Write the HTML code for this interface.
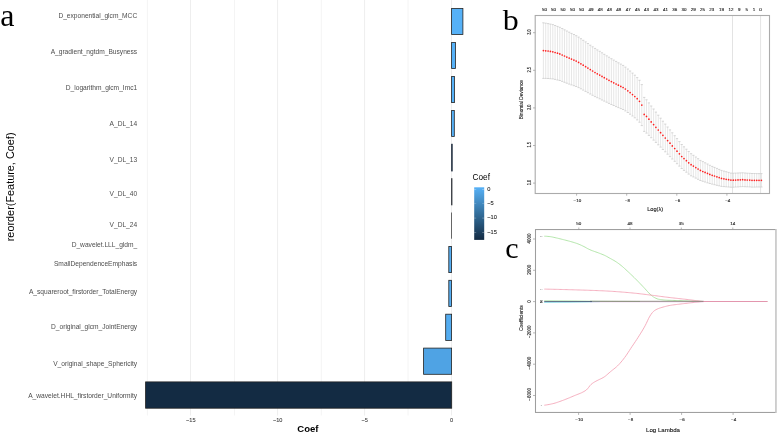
<!DOCTYPE html>
<html><head><meta charset="utf-8"><title>Figure</title>
<style>
html,body{margin:0;padding:0;background:#fff;}
body{width:777px;height:434px;overflow:hidden;}
svg{display:block;}
text{font-family:"Liberation Sans",Arial,Helvetica,sans-serif;}
.ser{font-family:"Liberation Serif","Times New Roman",serif;font-size:30px;fill:#000;}
.yl{font-size:6.63px;fill:#4d4d4d;text-anchor:end;}
.xl{font-size:5.6px;fill:#3a3a3a;stroke:#3a3a3a;stroke-width:0.08px;text-anchor:middle;}
.lg{font-size:5.7px;fill:#1a1a1a;stroke:#1a1a1a;stroke-width:0.08px;}
.t{font-size:4.5px;fill:#1a1a1a;stroke:#1a1a1a;stroke-width:0.12px;text-anchor:middle;}
.at{fill:#0a0a0a;stroke:#0a0a0a;stroke-width:0.08px;text-anchor:middle;}
</style></head><body>
<svg width="777" height="434" viewBox="0 0 777 434">
<defs>
<linearGradient id="cb" x1="0" y1="0" x2="0" y2="1">
<stop offset="0" stop-color="#56B1F7"/><stop offset="0.25" stop-color="#4590C9"/><stop offset="0.5" stop-color="#336F9C"/><stop offset="0.75" stop-color="#234D70"/><stop offset="1" stop-color="#132B43"/>
</linearGradient>
</defs>
<rect width="777" height="434" fill="#fff"/>

<g id="pa">
<line x1="147.4" y1="0" x2="147.4" y2="415.5" stroke="#f4f4f4" stroke-width="1"/>
<line x1="190.5" y1="0" x2="190.5" y2="415.5" stroke="#eeeeee" stroke-width="1"/>
<line x1="234.5" y1="0" x2="234.5" y2="415.5" stroke="#f4f4f4" stroke-width="1"/>
<line x1="277.6" y1="0" x2="277.6" y2="415.5" stroke="#eeeeee" stroke-width="1"/>
<line x1="321.3" y1="0" x2="321.3" y2="415.5" stroke="#f4f4f4" stroke-width="1"/>
<line x1="364.6" y1="0" x2="364.6" y2="415.5" stroke="#eeeeee" stroke-width="1"/>
<line x1="408.0" y1="0" x2="408.0" y2="415.5" stroke="#f4f4f4" stroke-width="1"/>
<line x1="451.5" y1="0" x2="451.5" y2="415.5" stroke="#eeeeee" stroke-width="1"/>
<rect x="451.6" y="8.4" width="11.30" height="26.10" fill="#56B1F7" stroke="#222" stroke-width="0.8"/>
<rect x="451.6" y="42.5" width="3.80" height="26.00" fill="#56B1F7" stroke="#222" stroke-width="0.8"/>
<rect x="451.6" y="76.4" width="2.80" height="26.20" fill="#56B1F7" stroke="#222" stroke-width="0.8"/>
<rect x="451.6" y="110.4" width="2.70" height="26.00" fill="#56B1F7" stroke="#222" stroke-width="0.8"/>
<rect x="451.0" y="143.8" width="1.80" height="27.60" fill="#3a4655"/>
<rect x="451.1" y="178.2" width="1.30" height="27.10" fill="#2e3238"/>
<rect x="451.2" y="212.5" width="0.80" height="26.20" fill="#444"/>
<rect x="448.8" y="246.4" width="2.80" height="26.20" fill="#55AEF3" stroke="#222" stroke-width="0.8"/>
<rect x="448.8" y="280.3" width="2.80" height="26.20" fill="#55AEF3" stroke="#222" stroke-width="0.8"/>
<rect x="445.7" y="314.2" width="5.90" height="26.20" fill="#54ACF0" stroke="#222" stroke-width="0.8"/>
<rect x="423.6" y="348.1" width="28.00" height="26.20" fill="#4FA3E4" stroke="#222" stroke-width="0.8"/>
<rect x="145.6" y="381.9" width="306.10" height="26.30" fill="#132B43" stroke="#222" stroke-width="0.8"/>
<text class="yl" x="137.2" y="18.1">D_exponential_glcm_MCC</text>
<text class="yl" x="137.2" y="54.1">A_gradient_ngtdm_Busyness</text>
<text class="yl" x="137.2" y="89.8">D_logarithm_glcm_Imc1</text>
<text class="yl" x="137.2" y="126.0">A_DL_14</text>
<text class="yl" x="137.2" y="162.4">V_DL_13</text>
<text class="yl" x="137.2" y="196.1">V_DL_40</text>
<text class="yl" x="137.2" y="227.0">V_DL_24</text>
<text class="yl" x="137.2" y="246.7">D_wavelet.LLL_gldm_</text>
<text class="yl" x="137.2" y="265.7">SmallDependenceEmphasis</text>
<text class="yl" x="137.2" y="294.1">A_squareroot_firstorder_TotalEnergy</text>
<text class="yl" x="137.2" y="328.6">D_original_glcm_JointEnergy</text>
<text class="yl" x="137.2" y="365.7">V_original_shape_Sphericity</text>
<text class="yl" x="137.2" y="398.4">A_wavelet.HHL_firstorder_Uniformity</text>
<text class="xl" x="190.8" y="422.4">−15</text>
<text class="xl" x="277.7" y="422.4">−10</text>
<text class="xl" x="364.8" y="422.4">−5</text>
<text class="xl" x="451.5" y="422.4">0</text>
<text x="307.9" y="431.9" text-anchor="middle" font-size="9.55px" font-weight="bold" fill="#000">Coef</text>
<text transform="translate(13.6,186.9) rotate(-90)" text-anchor="middle" font-size="10.88px" fill="#000">reorder(Feature, Coef)</text>
<text x="472.6" y="179.5" font-size="8.24px" fill="#000">Coef</text>
<rect x="474.2" y="187.3" width="10" height="52.6" fill="url(#cb)"/>
<line x1="474.2" y1="189.5" x2="476.2" y2="189.5" stroke="#fff" stroke-width="0.4" opacity="0.7"/><line x1="482.2" y1="189.5" x2="484.2" y2="189.5" stroke="#fff" stroke-width="0.4" opacity="0.7"/>
<text class="lg" x="487.2" y="190.7">0</text>
<line x1="474.2" y1="203.8" x2="476.2" y2="203.8" stroke="#fff" stroke-width="0.4" opacity="0.7"/><line x1="482.2" y1="203.8" x2="484.2" y2="203.8" stroke="#fff" stroke-width="0.4" opacity="0.7"/>
<text class="lg" x="487.2" y="205.0">−5</text>
<line x1="474.2" y1="218.1" x2="476.2" y2="218.1" stroke="#fff" stroke-width="0.4" opacity="0.7"/><line x1="482.2" y1="218.1" x2="484.2" y2="218.1" stroke="#fff" stroke-width="0.4" opacity="0.7"/>
<text class="lg" x="487.2" y="219.3">−10</text>
<line x1="474.2" y1="232.5" x2="476.2" y2="232.5" stroke="#fff" stroke-width="0.4" opacity="0.7"/><line x1="482.2" y1="232.5" x2="484.2" y2="232.5" stroke="#fff" stroke-width="0.4" opacity="0.7"/>
<text class="lg" x="487.2" y="233.7">−15</text>
<text class="ser" style="font-size:32px" x="0.2" y="25.9">a</text>
</g>
<g id="pb">
<line x1="732.5" y1="15.5" x2="732.5" y2="193.5" stroke="#dcdcdc" stroke-width="0.8"/>
<line x1="760.6" y1="15.5" x2="760.6" y2="193.5" stroke="#dcdcdc" stroke-width="0.8"/>
<path d="M543.4 22.8V78.4M545.7 23.2V78.4M548.1 23.6V78.5M550.4 24.1V78.7M552.8 24.6V78.9M555.1 25.5V79.4M557.5 26.4V80.0M559.8 27.3V80.5M562.2 28.5V81.4M564.5 29.8V82.3M566.8 31.0V83.2M569.2 32.2V84.1M571.5 33.4V84.9M573.9 34.5V85.7M576.2 35.7V86.5M578.6 37.1V87.6M580.9 38.7V88.8M583.2 40.3V90.1M585.6 41.9V91.4M587.9 43.5V92.7M590.3 45.2V94.0M592.6 46.8V95.3M595.0 48.4V96.6M597.3 49.9V97.7M599.7 51.3V98.8M602.0 52.8V100.0M604.3 54.3V101.1M606.7 55.8V102.2M609.0 57.2V103.4M611.4 58.7V104.5M613.7 60.1V105.5M616.1 61.4V106.6M618.4 62.8V107.6M620.8 64.1V108.6M623.1 65.4V109.5M625.4 67.1V110.9M627.8 69.0V112.5M630.1 71.0V114.2M632.5 73.1V116.0M634.8 75.2V117.8M637.2 77.6V119.9M639.5 80.3V122.2M641.8 84.6V125.6M644.2 97.4V131.4M646.5 99.8V133.1M648.9 102.9V135.4M651.2 106.0V137.7M653.6 109.0V140.1M655.9 112.1V142.4M658.3 115.2V144.8M660.6 118.2V147.1M662.9 121.2V149.5M665.3 124.1V151.8M667.6 127.0V154.2M670.0 129.9V156.6M672.3 132.8V159.0M674.7 135.7V161.3M677.0 138.6V163.7M679.4 141.6V166.1M681.7 144.5V168.5M684.0 146.8V170.4M686.4 149.2V172.2M688.7 151.5V174.1M691.1 153.7V175.8M693.4 155.3V176.9M695.8 157.0V178.1M698.1 158.7V179.3M700.4 160.4V180.5M702.8 161.6V181.3M705.1 162.8V182.0M707.5 164.0V182.8M709.8 165.3V183.5M712.2 166.4V184.1M714.5 167.4V184.7M716.9 168.4V185.3M719.2 169.4V185.8M721.5 170.4V186.4M723.9 171.1V186.6M726.2 171.7V186.8M728.6 172.4V187.0M730.9 173.1V187.2M733.3 173.2V187.2M735.6 173.1V187.0M738.0 173.0V186.9M740.3 172.9V186.7M742.6 172.8V186.6M745.0 173.0V186.7M747.3 173.2V186.8M749.7 173.3V186.9M752.0 173.5V187.1M754.4 173.5V187.1M756.7 173.6V187.0M759.0 173.6V187.0M761.4 173.6V187.0" stroke="#dcdcdc" stroke-width="0.7" fill="none"/>
<path d="M542.3 22.8h2.2M542.3 78.4h2.2M544.6 23.2h2.2M544.6 78.4h2.2M547.0 23.6h2.2M547.0 78.5h2.2M549.3 24.1h2.2M549.3 78.7h2.2M551.7 24.6h2.2M551.7 78.9h2.2M554.0 25.5h2.2M554.0 79.4h2.2M556.4 26.4h2.2M556.4 80.0h2.2M558.7 27.3h2.2M558.7 80.5h2.2M561.1 28.5h2.2M561.1 81.4h2.2M563.4 29.8h2.2M563.4 82.3h2.2M565.7 31.0h2.2M565.7 83.2h2.2M568.1 32.2h2.2M568.1 84.1h2.2M570.4 33.4h2.2M570.4 84.9h2.2M572.8 34.5h2.2M572.8 85.7h2.2M575.1 35.7h2.2M575.1 86.5h2.2M577.5 37.1h2.2M577.5 87.6h2.2M579.8 38.7h2.2M579.8 88.8h2.2M582.1 40.3h2.2M582.1 90.1h2.2M584.5 41.9h2.2M584.5 91.4h2.2M586.8 43.5h2.2M586.8 92.7h2.2M589.2 45.2h2.2M589.2 94.0h2.2M591.5 46.8h2.2M591.5 95.3h2.2M593.9 48.4h2.2M593.9 96.6h2.2M596.2 49.9h2.2M596.2 97.7h2.2M598.6 51.3h2.2M598.6 98.8h2.2M600.9 52.8h2.2M600.9 100.0h2.2M603.2 54.3h2.2M603.2 101.1h2.2M605.6 55.8h2.2M605.6 102.2h2.2M607.9 57.2h2.2M607.9 103.4h2.2M610.3 58.7h2.2M610.3 104.5h2.2M612.6 60.1h2.2M612.6 105.5h2.2M615.0 61.4h2.2M615.0 106.6h2.2M617.3 62.8h2.2M617.3 107.6h2.2M619.7 64.1h2.2M619.7 108.6h2.2M622.0 65.4h2.2M622.0 109.5h2.2M624.3 67.1h2.2M624.3 110.9h2.2M626.7 69.0h2.2M626.7 112.5h2.2M629.0 71.0h2.2M629.0 114.2h2.2M631.4 73.1h2.2M631.4 116.0h2.2M633.7 75.2h2.2M633.7 117.8h2.2M636.1 77.6h2.2M636.1 119.9h2.2M638.4 80.3h2.2M638.4 122.2h2.2M640.7 84.6h2.2M640.7 125.6h2.2M643.1 97.4h2.2M643.1 131.4h2.2M645.4 99.8h2.2M645.4 133.1h2.2M647.8 102.9h2.2M647.8 135.4h2.2M650.1 106.0h2.2M650.1 137.7h2.2M652.5 109.0h2.2M652.5 140.1h2.2M654.8 112.1h2.2M654.8 142.4h2.2M657.2 115.2h2.2M657.2 144.8h2.2M659.5 118.2h2.2M659.5 147.1h2.2M661.8 121.2h2.2M661.8 149.5h2.2M664.2 124.1h2.2M664.2 151.8h2.2M666.5 127.0h2.2M666.5 154.2h2.2M668.9 129.9h2.2M668.9 156.6h2.2M671.2 132.8h2.2M671.2 159.0h2.2M673.6 135.7h2.2M673.6 161.3h2.2M675.9 138.6h2.2M675.9 163.7h2.2M678.3 141.6h2.2M678.3 166.1h2.2M680.6 144.5h2.2M680.6 168.5h2.2M682.9 146.8h2.2M682.9 170.4h2.2M685.3 149.2h2.2M685.3 172.2h2.2M687.6 151.5h2.2M687.6 174.1h2.2M690.0 153.7h2.2M690.0 175.8h2.2M692.3 155.3h2.2M692.3 176.9h2.2M694.7 157.0h2.2M694.7 178.1h2.2M697.0 158.7h2.2M697.0 179.3h2.2M699.3 160.4h2.2M699.3 180.5h2.2M701.7 161.6h2.2M701.7 181.3h2.2M704.0 162.8h2.2M704.0 182.0h2.2M706.4 164.0h2.2M706.4 182.8h2.2M708.7 165.3h2.2M708.7 183.5h2.2M711.1 166.4h2.2M711.1 184.1h2.2M713.4 167.4h2.2M713.4 184.7h2.2M715.8 168.4h2.2M715.8 185.3h2.2M718.1 169.4h2.2M718.1 185.8h2.2M720.4 170.4h2.2M720.4 186.4h2.2M722.8 171.1h2.2M722.8 186.6h2.2M725.1 171.7h2.2M725.1 186.8h2.2M727.5 172.4h2.2M727.5 187.0h2.2M729.8 173.1h2.2M729.8 187.2h2.2M732.2 173.2h2.2M732.2 187.2h2.2M734.5 173.1h2.2M734.5 187.0h2.2M736.9 173.0h2.2M736.9 186.9h2.2M739.2 172.9h2.2M739.2 186.7h2.2M741.5 172.8h2.2M741.5 186.6h2.2M743.9 173.0h2.2M743.9 186.7h2.2M746.2 173.2h2.2M746.2 186.8h2.2M748.6 173.3h2.2M748.6 186.9h2.2M750.9 173.5h2.2M750.9 187.1h2.2M753.3 173.5h2.2M753.3 187.1h2.2M755.6 173.6h2.2M755.6 187.0h2.2M757.9 173.6h2.2M757.9 187.0h2.2M760.3 173.6h2.2M760.3 187.0h2.2" stroke="#c6c6c6" stroke-width="0.7" fill="none"/>
<g fill="#ff2020">
<circle cx="543.4" cy="50.6" r="0.85"/>
<circle cx="545.7" cy="50.8" r="0.85"/>
<circle cx="548.1" cy="51.0" r="0.85"/>
<circle cx="550.4" cy="51.4" r="0.85"/>
<circle cx="552.8" cy="51.8" r="0.85"/>
<circle cx="555.1" cy="52.5" r="0.85"/>
<circle cx="557.5" cy="53.2" r="0.85"/>
<circle cx="559.8" cy="53.9" r="0.85"/>
<circle cx="562.2" cy="55.0" r="0.85"/>
<circle cx="564.5" cy="56.0" r="0.85"/>
<circle cx="566.8" cy="57.1" r="0.85"/>
<circle cx="569.2" cy="58.1" r="0.85"/>
<circle cx="571.5" cy="59.1" r="0.85"/>
<circle cx="573.9" cy="60.1" r="0.85"/>
<circle cx="576.2" cy="61.1" r="0.85"/>
<circle cx="578.6" cy="62.4" r="0.85"/>
<circle cx="580.9" cy="63.8" r="0.85"/>
<circle cx="583.2" cy="65.2" r="0.85"/>
<circle cx="585.6" cy="66.7" r="0.85"/>
<circle cx="587.9" cy="68.1" r="0.85"/>
<circle cx="590.3" cy="69.6" r="0.85"/>
<circle cx="592.6" cy="71.0" r="0.85"/>
<circle cx="595.0" cy="72.5" r="0.85"/>
<circle cx="597.3" cy="73.8" r="0.85"/>
<circle cx="599.7" cy="75.1" r="0.85"/>
<circle cx="602.0" cy="76.4" r="0.85"/>
<circle cx="604.3" cy="77.7" r="0.85"/>
<circle cx="606.7" cy="79.0" r="0.85"/>
<circle cx="609.0" cy="80.3" r="0.85"/>
<circle cx="611.4" cy="81.6" r="0.85"/>
<circle cx="613.7" cy="82.8" r="0.85"/>
<circle cx="616.1" cy="84.0" r="0.85"/>
<circle cx="618.4" cy="85.2" r="0.85"/>
<circle cx="620.8" cy="86.4" r="0.85"/>
<circle cx="623.1" cy="87.5" r="0.85"/>
<circle cx="625.4" cy="89.0" r="0.85"/>
<circle cx="627.8" cy="90.8" r="0.85"/>
<circle cx="630.1" cy="92.6" r="0.85"/>
<circle cx="632.5" cy="94.6" r="0.85"/>
<circle cx="634.8" cy="96.5" r="0.85"/>
<circle cx="637.2" cy="98.7" r="0.85"/>
<circle cx="639.5" cy="101.3" r="0.85"/>
<circle cx="641.8" cy="105.1" r="0.85"/>
<circle cx="644.2" cy="114.4" r="0.85"/>
<circle cx="646.5" cy="116.4" r="0.85"/>
<circle cx="648.9" cy="119.2" r="0.85"/>
<circle cx="651.2" cy="121.9" r="0.85"/>
<circle cx="653.6" cy="124.6" r="0.85"/>
<circle cx="655.9" cy="127.3" r="0.85"/>
<circle cx="658.3" cy="130.0" r="0.85"/>
<circle cx="660.6" cy="132.7" r="0.85"/>
<circle cx="662.9" cy="135.3" r="0.85"/>
<circle cx="665.3" cy="138.0" r="0.85"/>
<circle cx="667.6" cy="140.6" r="0.85"/>
<circle cx="670.0" cy="143.2" r="0.85"/>
<circle cx="672.3" cy="145.9" r="0.85"/>
<circle cx="674.7" cy="148.5" r="0.85"/>
<circle cx="677.0" cy="151.2" r="0.85"/>
<circle cx="679.4" cy="153.8" r="0.85"/>
<circle cx="681.7" cy="156.5" r="0.85"/>
<circle cx="684.0" cy="158.6" r="0.85"/>
<circle cx="686.4" cy="160.7" r="0.85"/>
<circle cx="688.7" cy="162.8" r="0.85"/>
<circle cx="691.1" cy="164.7" r="0.85"/>
<circle cx="693.4" cy="166.1" r="0.85"/>
<circle cx="695.8" cy="167.6" r="0.85"/>
<circle cx="698.1" cy="169.0" r="0.85"/>
<circle cx="700.4" cy="170.4" r="0.85"/>
<circle cx="702.8" cy="171.5" r="0.85"/>
<circle cx="705.1" cy="172.4" r="0.85"/>
<circle cx="707.5" cy="173.4" r="0.85"/>
<circle cx="709.8" cy="174.4" r="0.85"/>
<circle cx="712.2" cy="175.3" r="0.85"/>
<circle cx="714.5" cy="176.0" r="0.85"/>
<circle cx="716.9" cy="176.8" r="0.85"/>
<circle cx="719.2" cy="177.6" r="0.85"/>
<circle cx="721.5" cy="178.4" r="0.85"/>
<circle cx="723.9" cy="178.8" r="0.85"/>
<circle cx="726.2" cy="179.3" r="0.85"/>
<circle cx="728.6" cy="179.7" r="0.85"/>
<circle cx="730.9" cy="180.1" r="0.85"/>
<circle cx="733.3" cy="180.2" r="0.85"/>
<circle cx="735.6" cy="180.1" r="0.85"/>
<circle cx="738.0" cy="179.9" r="0.85"/>
<circle cx="740.3" cy="179.8" r="0.85"/>
<circle cx="742.6" cy="179.7" r="0.85"/>
<circle cx="745.0" cy="179.9" r="0.85"/>
<circle cx="747.3" cy="180.0" r="0.85"/>
<circle cx="749.7" cy="180.1" r="0.85"/>
<circle cx="752.0" cy="180.3" r="0.85"/>
<circle cx="754.4" cy="180.3" r="0.85"/>
<circle cx="756.7" cy="180.3" r="0.85"/>
<circle cx="759.0" cy="180.3" r="0.85"/>
<circle cx="761.4" cy="180.3" r="0.85"/>
</g>
<rect x="535.2" y="15.5" width="234.3" height="178.0" fill="none" stroke="#ababab" stroke-width="1.1"/>
<text class="t" transform="translate(577.4,202.1) scale(1,0.9)">−10</text>
<text class="t" transform="translate(627.5,202.1) scale(1,0.9)">−8</text>
<text class="t" transform="translate(677.6,202.1) scale(1,0.9)">−6</text>
<text class="t" transform="translate(727.7,202.1) scale(1,0.9)">−4</text>
<text class="t" transform="translate(530.9,182.5) scale(1,0.87) rotate(-90)">1.0</text>
<text class="t" transform="translate(530.9,144.9) scale(1,0.87) rotate(-90)">1.5</text>
<text class="t" transform="translate(530.9,107.3) scale(1,0.87) rotate(-90)">2.0</text>
<text class="t" transform="translate(530.9,69.7) scale(1,0.87) rotate(-90)">2.5</text>
<text class="t" transform="translate(530.9,32.1) scale(1,0.87) rotate(-90)">3.0</text>
<text class="t" transform="translate(544.6,11.25) scale(1,0.88)">50</text>
<text class="t" transform="translate(553.4,11.25) scale(1,0.88)">50</text>
<text class="t" transform="translate(563,11.25) scale(1,0.88)">50</text>
<text class="t" transform="translate(572.5,11.25) scale(1,0.88)">50</text>
<text class="t" transform="translate(581.4,11.25) scale(1,0.88)">50</text>
<text class="t" transform="translate(590.9,11.25) scale(1,0.88)">49</text>
<text class="t" transform="translate(600.3,11.25) scale(1,0.88)">48</text>
<text class="t" transform="translate(609.5,11.25) scale(1,0.88)">48</text>
<text class="t" transform="translate(618.8,11.25) scale(1,0.88)">48</text>
<text class="t" transform="translate(628.2,11.25) scale(1,0.88)">47</text>
<text class="t" transform="translate(637.4,11.25) scale(1,0.88)">45</text>
<text class="t" transform="translate(646.6,11.25) scale(1,0.88)">43</text>
<text class="t" transform="translate(656.0,11.25) scale(1,0.88)">43</text>
<text class="t" transform="translate(665.4,11.25) scale(1,0.88)">41</text>
<text class="t" transform="translate(674.8,11.25) scale(1,0.88)">36</text>
<text class="t" transform="translate(684,11.25) scale(1,0.88)">30</text>
<text class="t" transform="translate(693.3,11.25) scale(1,0.88)">29</text>
<text class="t" transform="translate(702.5,11.25) scale(1,0.88)">25</text>
<text class="t" transform="translate(711.8,11.25) scale(1,0.88)">23</text>
<text class="t" transform="translate(721.4,11.25) scale(1,0.88)">19</text>
<text class="t" transform="translate(730.9,11.25) scale(1,0.88)">12</text>
<text class="t" transform="translate(739.2,11.25) scale(1,0.88)">9</text>
<text class="t" transform="translate(746.8,11.25) scale(1,0.88)">5</text>
<text class="t" transform="translate(754.1,11.25) scale(1,0.88)">1</text>
<text class="t" transform="translate(760.5,11.25) scale(1,0.88)">0</text>
<path d="M576.6 193.5v2.2M626.7 193.5v2.2M676.8 193.5v2.2M726.9 193.5v2.2M535.2 183.1h-2.2M535.2 145.5h-2.2M535.2 107.9h-2.2M535.2 70.3h-2.2M535.2 32.7h-2.2" stroke="#999" stroke-width="0.7" fill="none"/>
<text class="at" font-size="5.7px" x="655.2" y="210.7">Log(λ)</text>
<text class="at" font-size="5.2px" textLength="39.1" lengthAdjust="spacingAndGlyphs" transform="translate(522.7,99.6) rotate(-90)">Binomial Deviance</text>
<text class="ser" style="font-size:32px" transform="translate(502.8,29.6) scale(1,0.93)">b</text>
</g>
<g id="pc">
<path d="M544.3 236.20L545.5 236.24L546.7 236.31L547.9 236.41L549.1 236.53L550.3 236.66L551.5 236.84L552.7 237.08L553.9 237.35L555.1 237.63L556.3 237.91L557.5 238.18L558.7 238.47L559.9 238.76L561.1 239.06L562.3 239.37L563.5 239.67L564.7 239.98L565.9 240.28L567.1 240.59L568.3 240.90L569.5 241.22L570.7 241.56L571.9 241.90L573.1 242.25L574.3 242.62L575.5 243.00L576.7 243.41L577.9 243.85L579.1 244.33L580.3 244.84L581.5 245.39L582.7 245.96L583.9 246.55L585.1 247.17L586.3 247.87L587.5 248.54L588.7 249.14L589.9 249.70L591.1 250.22L592.3 250.69L593.5 251.14L594.7 251.56L595.9 251.97L597.1 252.39L598.3 252.84L599.5 253.29L600.7 253.75L601.9 254.22L603.1 254.71L604.3 255.23L605.5 255.79L606.7 256.42L607.9 257.10L609.1 257.79L610.3 258.47L611.5 259.12L612.7 259.78L613.9 260.45L615.1 261.16L616.3 261.93L617.5 262.75L618.7 263.62L619.9 264.53L621.1 265.48L622.3 266.46L623.5 267.51L624.7 268.59L625.9 269.70L627.1 270.82L628.3 271.93L629.5 273.05L630.7 274.19L631.9 275.34L633.1 276.50L634.3 277.67L635.5 278.86L636.7 280.07L637.9 281.28L639.1 282.51L640.3 283.75L641.5 285.01L642.7 286.28L643.9 287.56L645.1 288.84L646.3 290.18L647.5 291.53L648.7 292.84L649.9 294.04L651.1 295.10L652.3 296.10L653.5 296.98L654.7 297.67L655.9 298.29L657.1 298.81L658.3 299.18L659.5 299.41L660.7 299.61L661.9 299.78L663.1 299.92L664.3 300.03L665.5 300.11L666.7 300.18L667.9 300.24L669.1 300.29L670.3 300.33L671.5 300.38L672.7 300.42L673.9 300.45L675.1 300.49L676.3 300.52L677.5 300.55L678.7 300.59L679.9 300.63L681.1 300.68L682.3 300.74L683.5 300.80L684.7 300.86L685.9 300.92L687.1 300.98L688.3 301.03L689.5 301.08L690.7 301.13L691.9 301.17L693.1 301.22L694.3 301.27L695.5 301.31L696.7 301.36L697.9 301.40L699.1 301.43L700.3 301.46L701.5 301.48L702.7 301.50L703.9 301.50L705.1 301.50L706.3 301.50L707.5 301.50L708.7 301.50L709.9 301.50L711.1 301.50L712.3 301.50L713.5 301.50L714.7 301.50L715.9 301.50L717.1 301.50L718.3 301.50L719.5 301.50L720.7 301.50L721.9 301.50L723.1 301.50L724.3 301.50L725.5 301.50L726.7 301.50L727.9 301.50L729.1 301.50L730.3 301.50L731.5 301.50L732.7 301.50L733.9 301.50L735.1 301.50L736.3 301.50L737.5 301.50L738.7 301.50L739.9 301.50L741.1 301.50L742.3 301.50L743.5 301.50L744.7 301.50L745.9 301.50L747.1 301.50L748.3 301.50L749.5 301.50L750.7 301.50L751.9 301.50L753.1 301.50L754.3 301.50L755.5 301.50L756.7 301.50L757.9 301.50L759.1 301.50L760.3 301.50L761.5 301.50L762.7 301.50L763.9 301.50L765.1 301.50L766.3 301.50L767.3 301.50" stroke="#a6e29c" stroke-width="0.85" fill="none"/>
<path d="M544.3 289.10L545.5 289.12L546.7 289.15L547.9 289.17L549.1 289.20L550.3 289.22L551.5 289.25L552.7 289.27L553.9 289.30L555.1 289.33L556.3 289.36L557.5 289.39L558.7 289.42L559.9 289.44L561.1 289.47L562.3 289.51L563.5 289.54L564.7 289.57L565.9 289.60L567.1 289.63L568.3 289.66L569.5 289.70L570.7 289.73L571.9 289.76L573.1 289.80L574.3 289.83L575.5 289.87L576.7 289.90L577.9 289.94L579.1 289.97L580.3 290.01L581.5 290.05L582.7 290.08L583.9 290.12L585.1 290.16L586.3 290.20L587.5 290.23L588.7 290.27L589.9 290.32L591.1 290.36L592.3 290.40L593.5 290.44L594.7 290.49L595.9 290.53L597.1 290.58L598.3 290.63L599.5 290.68L600.7 290.73L601.9 290.78L603.1 290.84L604.3 290.89L605.5 290.95L606.7 291.02L607.9 291.08L609.1 291.15L610.3 291.22L611.5 291.29L612.7 291.37L613.9 291.45L615.1 291.53L616.3 291.62L617.5 291.70L618.7 291.79L619.9 291.89L621.1 291.98L622.3 292.08L623.5 292.18L624.7 292.27L625.9 292.38L627.1 292.48L628.3 292.59L629.5 292.70L630.7 292.81L631.9 292.92L633.1 293.04L634.3 293.16L635.5 293.28L636.7 293.40L637.9 293.53L639.1 293.66L640.3 293.80L641.5 293.94L642.7 294.09L643.9 294.23L645.1 294.38L646.3 294.54L647.5 294.69L648.7 294.84L649.9 295.00L651.1 295.15L652.3 295.30L653.5 295.46L654.7 295.61L655.9 295.77L657.1 295.93L658.3 296.09L659.5 296.25L660.7 296.41L661.9 296.57L663.1 296.72L664.3 296.88L665.5 297.02L666.7 297.17L667.9 297.31L669.1 297.46L670.3 297.60L671.5 297.74L672.7 297.87L673.9 298.01L675.1 298.15L676.3 298.28L677.5 298.42L678.7 298.55L679.9 298.69L681.1 298.82L682.3 298.95L683.5 299.08L684.7 299.20L685.9 299.33L687.1 299.46L688.3 299.60L689.5 299.74L690.7 299.89L691.9 300.05L693.1 300.22L694.3 300.40L695.5 300.57L696.7 300.74L697.9 300.89L699.1 301.04L700.3 301.21L701.5 301.36L702.7 301.47L703.9 301.50L705.1 301.50L706.3 301.50L707.5 301.50L708.7 301.50L709.9 301.50L711.1 301.50L712.3 301.50L713.5 301.50L714.7 301.50L715.9 301.50L717.1 301.50L718.3 301.50L719.5 301.50L720.7 301.50L721.9 301.50L723.1 301.50L724.3 301.50L725.5 301.50L726.7 301.50L727.9 301.50L729.1 301.50L730.3 301.50L731.5 301.50L732.7 301.50L733.9 301.50L735.1 301.50L736.3 301.50L737.5 301.50L738.7 301.50L739.9 301.50L741.1 301.50L742.3 301.50L743.5 301.50L744.7 301.50L745.9 301.50L747.1 301.50L748.3 301.50L749.5 301.50L750.7 301.50L751.9 301.50L753.1 301.50L754.3 301.50L755.5 301.50L756.7 301.50L757.9 301.50L759.1 301.50L760.3 301.50L761.5 301.50L762.7 301.50L763.9 301.50L765.1 301.50L766.3 301.50L767.3 301.50" stroke="#f3a0b4" stroke-width="0.85" fill="none"/>
<path d="M544.3 405.20L545.5 405.06L546.7 404.88L547.9 404.68L549.1 404.46L550.3 404.22L551.5 403.96L552.7 403.69L553.9 403.40L555.1 403.07L556.3 402.69L557.5 402.29L558.7 401.87L559.9 401.44L561.1 401.01L562.3 400.57L563.5 400.13L564.7 399.67L565.9 399.20L567.1 398.72L568.3 398.23L569.5 397.74L570.7 397.23L571.9 396.72L573.1 396.20L574.3 395.69L575.5 395.20L576.7 394.73L577.9 394.26L579.1 393.79L580.3 393.30L581.5 392.77L582.7 392.19L583.9 391.54L585.1 390.82L586.3 390.00L587.5 388.81L588.7 387.35L589.9 385.71L591.1 384.42L592.3 383.44L593.5 382.60L594.7 381.88L595.9 381.23L597.1 380.59L598.3 379.99L599.5 379.42L600.7 378.86L601.9 378.27L603.1 377.62L604.3 376.87L605.5 375.99L606.7 375.00L607.9 373.95L609.1 372.88L610.3 371.84L611.5 370.85L612.7 369.90L613.9 368.96L615.1 368.00L616.3 366.99L617.5 365.89L618.7 364.69L619.9 363.39L621.1 362.00L622.3 360.55L623.5 359.03L624.7 357.47L625.9 355.81L627.1 354.05L628.3 352.23L629.5 350.37L630.7 348.51L631.9 346.70L633.1 344.92L634.3 343.14L635.5 341.35L636.7 339.54L637.9 337.69L639.1 335.79L640.3 333.88L641.5 331.94L642.7 329.96L643.9 327.91L645.1 325.77L646.3 323.41L647.5 320.82L648.7 318.28L649.9 316.10L651.1 314.27L652.3 312.66L653.5 311.41L654.7 310.47L655.9 309.71L657.1 309.11L658.3 308.61L659.5 308.17L660.7 307.79L661.9 307.43L663.1 307.09L664.3 306.76L665.5 306.43L666.7 306.12L667.9 305.83L669.1 305.57L670.3 305.35L671.5 305.16L672.7 304.98L673.9 304.83L675.1 304.68L676.3 304.54L677.5 304.39L678.7 304.25L679.9 304.10L681.1 303.95L682.3 303.81L683.5 303.66L684.7 303.52L685.9 303.38L687.1 303.24L688.3 303.10L689.5 302.96L690.7 302.82L691.9 302.68L693.1 302.54L694.3 302.40L695.5 302.26L696.7 302.13L697.9 302.01L699.1 301.88L700.3 301.74L701.5 301.61L702.7 301.53L703.9 301.50L705.1 301.50L706.3 301.50L707.5 301.50L708.7 301.50L709.9 301.50L711.1 301.50L712.3 301.50L713.5 301.50L714.7 301.50L715.9 301.50L717.1 301.50L718.3 301.50L719.5 301.50L720.7 301.50L721.9 301.50L723.1 301.50L724.3 301.50L725.5 301.50L726.7 301.50L727.9 301.50L729.1 301.50L730.3 301.50L731.5 301.50L732.7 301.50L733.9 301.50L735.1 301.50L736.3 301.50L737.5 301.50L738.7 301.50L739.9 301.50L741.1 301.50L742.3 301.50L743.5 301.50L744.7 301.50L745.9 301.50L747.1 301.50L748.3 301.50L749.5 301.50L750.7 301.50L751.9 301.50L753.1 301.50L754.3 301.50L755.5 301.50L756.7 301.50L757.9 301.50L759.1 301.50L760.3 301.50L761.5 301.50L762.7 301.50L763.9 301.50L765.1 301.50L766.3 301.50L767.3 301.50" stroke="#f3a0b4" stroke-width="0.85" fill="none"/>
<path d="M544.2 300.8L575 301.0L595 301.3L640 301.5" stroke="#7fd070" stroke-width="0.6" fill="none"/>
<path d="M544.2 302.5L570 302.3L585 302.0L600 301.6" stroke="#7fe0ee" stroke-width="0.7" fill="none"/>
<path d="M590 301.85L703.7 301.8" stroke="#dc9fe3" stroke-width="0.55" fill="none"/>
<path d="M590 301.3L703.7 301.3" stroke="#6c6c58" stroke-width="0.7" fill="none"/>
<path d="M703.7 301.5L767.3 301.5" stroke="#e396ae" stroke-width="1" fill="none"/>
<path d="M544.2 301.6L592 301.55" stroke="#4a5a78" stroke-width="0.9" fill="none"/>
<rect x="535.5" y="229.55" width="240.4" height="182.90" fill="none" stroke="#9e9e9e" stroke-width="1.05"/>
<rect x="775.4" y="229" width="1.6" height="184" fill="#d4d4d4"/>
<text class="t" transform="translate(579.1,420.8) scale(1,0.9)">−10</text>
<text class="t" transform="translate(630.6,420.8) scale(1,0.9)">−8</text>
<text class="t" transform="translate(682.1,420.8) scale(1,0.9)">−6</text>
<text class="t" transform="translate(733.6,420.8) scale(1,0.9)">−4</text>
<text class="t" transform="translate(530.9,238.5) rotate(-90)">4000</text>
<text class="t" transform="translate(530.9,269.8) rotate(-90)">2000</text>
<text class="t" transform="translate(530.9,301.6) rotate(-90)">0</text>
<text class="t" transform="translate(530.9,331.8) rotate(-90)">−2000</text>
<text class="t" transform="translate(530.9,363.1) rotate(-90)">−4000</text>
<text class="t" transform="translate(530.9,394.4) rotate(-90)">−6000</text>
<text class="t" transform="translate(578.8,225.2) scale(1,0.9)">50</text>
<text class="t" transform="translate(630,225.2) scale(1,0.9)">48</text>
<text class="t" transform="translate(681.3,225.2) scale(1,0.9)">35</text>
<text class="t" transform="translate(732.8,225.2) scale(1,0.9)">14</text>
<path d="M578.6 412.45v2.5M630.1 412.45v2.5M681.6 412.45v2.5M733.1 412.45v2.5M535.5 239.0h-2.5M535.5 270.3h-2.5M535.5 301.6h-2.5M535.5 332.9h-2.5M535.5 364.2h-2.5M535.5 395.5h-2.5M578.8 229.55v-2.0M630 229.55v-2.0M681.3 229.55v-2.0M732.8 229.55v-2.0" stroke="#999" stroke-width="0.7" fill="none"/>
<text x="541.3" y="237.2" font-size="2.3px" text-anchor="middle" fill="#8c8c8c">27</text>
<text x="541.3" y="290.1" font-size="2.3px" text-anchor="middle" fill="#8c8c8c">34</text>
<text x="541.3" y="406.1" font-size="2.3px" text-anchor="middle" fill="#8c8c8c">8</text>
<text x="541.3" y="301.4" font-size="2.4px" text-anchor="middle" fill="#111">12</text>
<text x="541.3" y="301.9" font-size="2.4px" text-anchor="middle" fill="#111">41</text>
<text x="541.3" y="302.3" font-size="2.4px" text-anchor="middle" fill="#111">5</text>
<text x="541.3" y="302.7" font-size="2.4px" text-anchor="middle" fill="#111">19</text>
<text x="541.3" y="303.1" font-size="2.4px" text-anchor="middle" fill="#111">30</text>
<text class="at" font-size="6.1px" x="663" y="431.8">Log Lambda</text>
<text class="at" font-size="5.3px" textLength="25.9" lengthAdjust="spacingAndGlyphs" transform="translate(522.8,318.1) rotate(-90)">Coefficients</text>
<text class="ser" x="505.2" y="257.7">c</text>
</g>
</svg></body></html>
